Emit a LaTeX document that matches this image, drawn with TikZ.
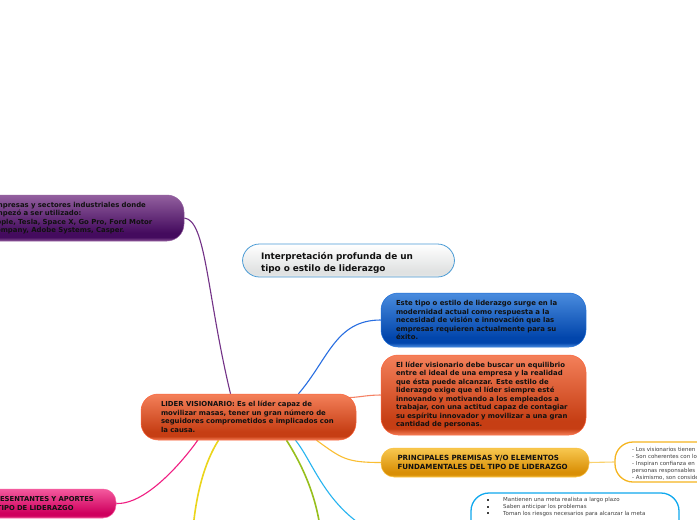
\documentclass[tikz,border=0pt]{standalone}
\usepackage{fontspec}
\setmainfont{DejaVu Sans}
\usetikzlibrary{backgrounds}
\definecolor{txt}{HTML}{111111}
\newcommand{\mkshade}[4]{%
\definecolor{#1L}{HTML}{#2}\definecolor{#1D}{HTML}{#3}\definecolor{#1R}{HTML}{#4}%
\pgfdeclareverticalshading{#1S}{100bp}{color(0bp)=(#1R); color(25bp)=(#1R); color(29bp)=(#1D); color(34bp)=(#1D); color(75bp)=(#1L); color(100bp)=(#1L)}}
\mkshade{org}{F4805A}{C63E14}{F57F58}
\mkshade{blu}{4A8CDE}{0246AC}{4A8CE0}
\mkshade{yel}{F8C850}{D98F06}{F8C23E}
\mkshade{pur}{93609F}{440B5E}{8C5698}
\mkshade{pnk}{F45A9E}{CF005E}{F05A9A}
\mkshade{gry}{FFFFFF}{E0E2E2}{EEEEEE}
\tikzset{
 x=1pt,y=-1pt,
 topic/.style={rectangle,rounded corners=#1,align=left,anchor=center,inner sep=0pt,text=txt,line width=.5pt},
 bodytxt/.style={font=\bfseries\fontsize{6.9}{8.5}\selectfont},
 link/.style={line width=1.1pt},
 thicklink/.style={line width=1.6pt},
 outl/.style={rectangle,rounded corners=18pt,draw,line width=1.3pt,fill=white,inner sep=0pt},
 small/.style={font=\fontsize{5.5}{6.9}\selectfont,text=black!75,anchor=north west,align=left,inner sep=0pt},
}
\begin{document}
\begin{tikzpicture}
\useasboundingbox (0,0) rectangle (697,520);
% nodes
\node[topic=17pt,shading=purS,draw=purL,minimum width=212pt,minimum height=46pt,text width=174pt,bodytxt] (purple) at (78,218)
 {Empresas y sectores industriales donde\\empezó a ser utilizado:\\Apple, Tesla, Space X, Go Pro, Ford Motor\\Company, Adobe Systems, Casper.};
\node[topic=17pt,shading=gryS,draw={rgb,255:red,74;green,155;blue,213},line width=.8pt,minimum width=212pt,minimum height=33pt,text width=175pt,font=\bfseries\fontsize{8.9}{12}\selectfont] (interp) at (348.5,260.5)
 {\rule{0pt}{11pt}Interpretación profunda de un\\tipo o estilo de liderazgo};
\node[topic=17pt,shading=bluS,draw={rgb,255:red,30;green,110;blue,215},minimum width=205pt,minimum height=54pt,text width=175pt,bodytxt] (blue) at (483.5,320)
 {Este tipo o estilo de liderazgo surge en la\\modernidad actual como respuesta a la\\necesidad de visión e innovación que las\\empresas requieren actualmente para su\\éxito.};
\node[topic=17pt,shading=orgS,draw={rgb,255:red,250;green,100;blue,60},minimum width=205pt,minimum height=80pt,text width=175pt,bodytxt] (red) at (483.5,395)
 {El líder visionario debe buscar un equilibrio\\entre el ideal de una empresa y la realidad\\que ésta puede alcanzar. Este estilo de\\liderazgo exige que el líder siempre esté\\innovando y motivando a los empleados a\\trabajar, con una actitud capaz de contagiar\\su espíritu innovador y movilizar a una gran\\cantidad de personas.};
\node[topic=17pt,shading=orgS,draw={rgb,255:red,250;green,100;blue,60},minimum width=215pt,minimum height=46pt,text width=175pt,bodytxt] (lead) at (248.5,417)
 {LIDER VISIONARIO: Es el líder capaz de\\movilizar masas, tener un gran número de\\seguidores comprometidos e implicados con\\la causa.};
\node[topic=13pt,shading=yelS,draw={rgb,255:red,248;green,190;blue,60},minimum width=208pt,minimum height=29pt,text width=175pt,font=\bfseries\fontsize{7.1}{8.5}\selectfont] (prem) at (485,462.5)
 {PRINCIPALES PREMISAS Y/O ELEMENTOS\\FUNDAMENTALES DEL TIPO DE LIDERAZGO};
\node[topic=13pt,shading=pnkS,draw=pnkL,minimum width=144pt,minimum height=29pt,text width=128pt,font=\bfseries\fontsize{6.8}{8.5}\selectfont] (pink) at (44,503.5)
 {REPRESENTANTES Y APORTES\\DEL TIPO DE LIDERAZGO};
\node[outl,draw={rgb,255:red,245;green,181;blue,32},minimum width=120pt,minimum height=40pt] (ybox) at (675,462) {};
\node[small] (ytxt) at (632,447.5) {- Los visionarios tienen\\- Son coherentes con lo\\- Inspiran confianza en\\personas responsables\\- Asimismo, son conside};
\node[outl,draw={rgb,255:red,16;green,168;blue,238},minimum width=208pt,minimum height=120pt] (cbox) at (575,553) {};
\node[small] (ctxt) at (503,497.3) {Mantienen una meta realista a largo plazo\\Saben anticipar los problemas\\Toman los riesgos necesarios para alcanzar la meta};
\foreach \yy in {499,505.8,512} \fill[black!75] (487,\yy) rectangle +(2,2);
\coordinate (goldend) at (192.5,535);
\coordinate (greenend) at (321,535);
\begin{scope}[on background layer]
\fill[white] (0,0) rectangle (697,520);
\draw[link,draw={rgb,255:red,115;green,50;blue,135}] (purple.east) .. controls +(22,2) and +(-24,-100) .. ([xshift=-18pt]lead.north);
\draw[link,draw={rgb,255:red,40;green,110;blue,225}] (blue.west) .. controls +(-45,0) and +(30,-35) .. ([xshift=50pt]lead.north);
\draw[link,draw={rgb,255:red,245;green,130;blue,100}] (red.west) .. controls +(-15,0) and +(15,0) .. ([xshift=95pt,yshift=-4pt]lead.north);
\draw[link,draw={rgb,255:red,250;green,190;blue,50}] (prem.west) .. controls +(-35,0) and +(25,18) .. ([xshift=68pt]lead.south);
\draw[link,draw={rgb,255:red,250;green,210;blue,110}] (prem.east) -- (ybox.west);
\draw[link,draw={rgb,255:red,240;green,30;blue,130}] (pink.east) .. controls +(45,2) and +(25,-35) .. ([xshift=-52pt]lead.south);
\draw[thicklink,draw={rgb,255:red,235;green,213;blue,26}] ([xshift=-30pt]lead.south) .. controls +(-14,22) and +(3,-40) .. (goldend);
\draw[thicklink,draw={rgb,255:red,151;green,191;blue,28}] ([xshift=38pt]lead.south) .. controls +(14,22) and +(-4,-40) .. (greenend);
\draw[link,draw={rgb,255:red,39;green,180;blue,240}] ([xshift=47pt]lead.south) .. controls +(26,32) and +(-135,0) .. (cbox.west);
\end{scope}
\end{tikzpicture}
\end{document}
